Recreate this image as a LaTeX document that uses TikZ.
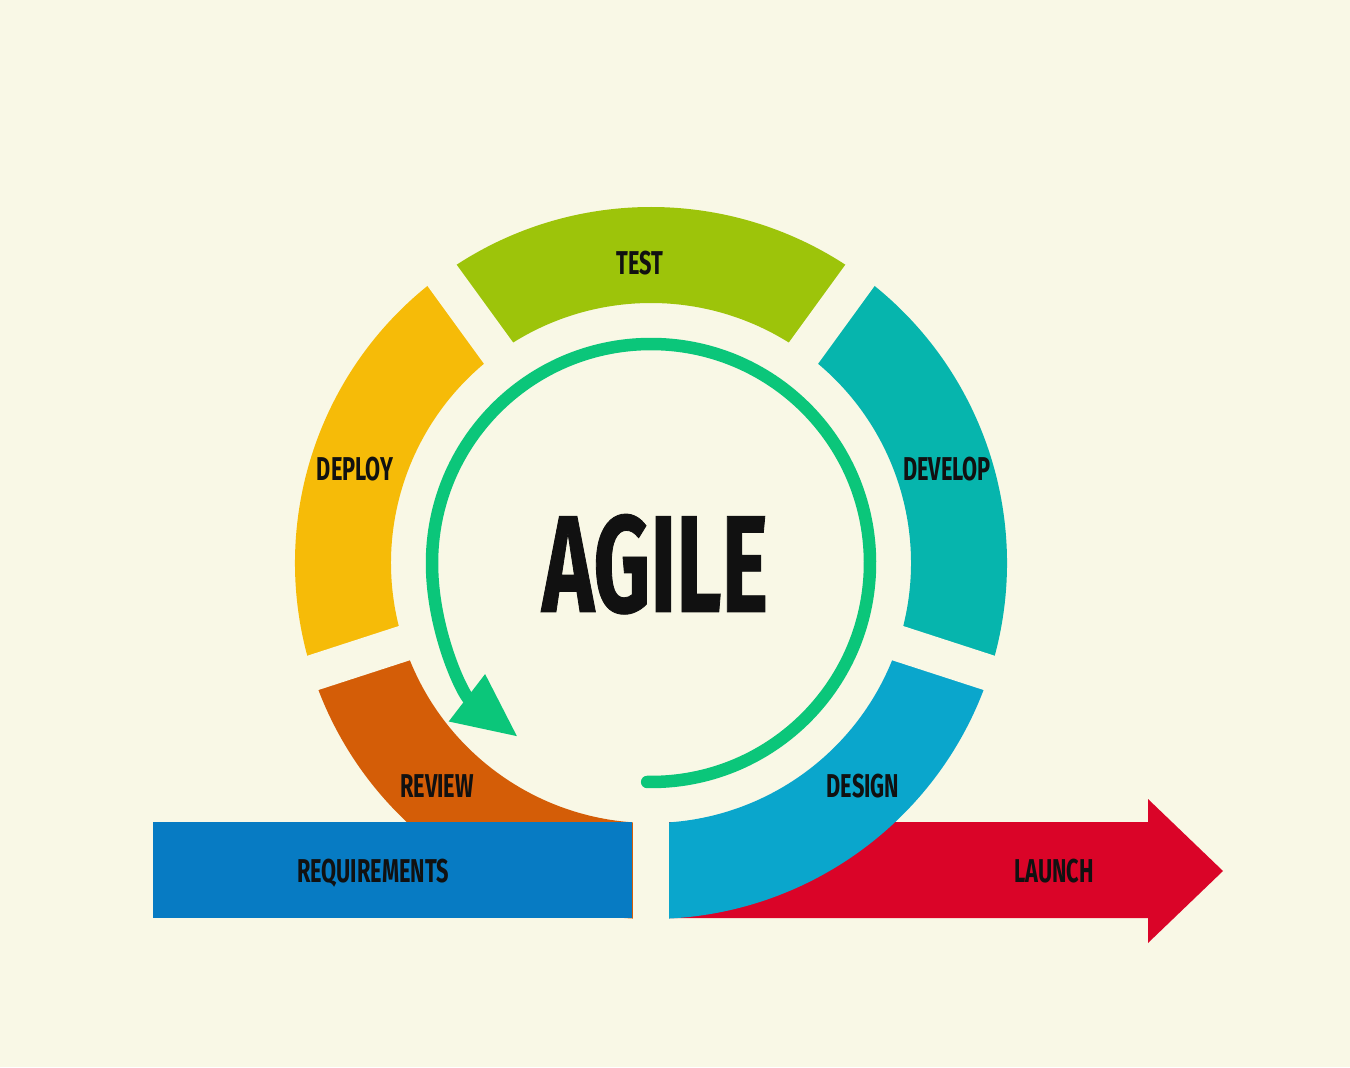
\documentclass[tikz,border=0pt]{standalone}
\usepackage{fontspec}
\newfontfamily\phasefont[FakeStretch=0.66]{Fira Sans}
\newfontfamily\titlefont[FakeStretch=0.64,FakeBold=0.6]{Fira Sans}
\usepackage{xcolor}
\definecolor{canvas}{RGB}{249,248,230}
\definecolor{testgreen}{RGB}{157,196,10}
\definecolor{developteal}{RGB}{6,181,173}
\definecolor{designblue}{RGB}{10,166,204}
\definecolor{revieworange}{RGB}{212,93,7}
\definecolor{deployyellow}{RGB}{246,187,8}
\definecolor{reqblue}{RGB}{7,123,195}
\definecolor{launchred}{RGB}{218,4,40}
\definecolor{loopgreen}{RGB}{11,198,122}
\definecolor{ink}{RGB}{17,17,17}
\usepackage{tikz}
\usetikzlibrary{arrows.meta,calc}

\begin{document}
\begin{tikzpicture}[x=0.5pt, y=0.5pt,
    phase/.style={font=\phasefont\bfseries\fontsize{16.5}{18}\selectfont, text=ink, inner sep=0pt, text depth=0pt},
    title/.style={font=\titlefont\bfseries\fontsize{69}{70}\selectfont, text=ink, inner sep=0pt, text depth=0pt},
    gap/.style={draw=canvas, line width=18pt},
    loop/.style={draw=loopgreen, line width=6.25pt, line cap=round, -{Triangle[length=32pt, width=28pt]}}]

    % Canvas
    \fill[canvas] (0,0) rectangle (1350,1067);
    \useasboundingbox (0,0) rectangle (1350,1067);
    \coordinate (C) at (651,504);

    % Launch arrow
    \fill[launchred] (669,149) -- (669,245) -- (1148,245) -- (1148,268)
        -- (1223,196) -- (1148,124) -- (1148,149) -- cycle;

    % Ring segments
    \foreach \ang/\col in {90/testgreen, 18/developteal, -54/designblue,
                           234/revieworange, 162/deployyellow}
        \fill[\col, shift={(C)}] (\ang-36:260) -- (\ang-36:356)
            arc[start angle=\ang-36, end angle=\ang+36, radius=356]
            -- (\ang+36:260)
            arc[start angle=\ang+36, end angle=\ang-36, radius=260] -- cycle;

    % Gaps between segments
    \foreach \ang in {126, 54, -18, -90, 198}
        \draw[gap] ($(C)+(\ang:240)$) -- ($(C)+(\ang:380)$);

    % Requirements bar
    \fill[reqblue] (153,149) rectangle (632,245);

    % Loop arrow
    \draw[loop] ($(C)+(-91:219)$) arc[start angle=-91, end angle=232.5, radius=219];

    % Labels
    \node[title] (agile) at (655,504) {AGILE};
    \node[phase] (test) at (640,804) {TEST};
    \node[phase] (develop) at (947,598) {DEVELOP};
    \node[phase] (design) at (863,281) {DESIGN};
    \node[phase] (review) at (437,281) {REVIEW};
    \node[phase] (deploy) at (355,598) {DEPLOY};
    \node[phase] (requirements) at (373,196) {REQUIREMENTS};
    \node[phase] (launch) at (1054,196) {LAUNCH};
\end{tikzpicture}
\end{document}
